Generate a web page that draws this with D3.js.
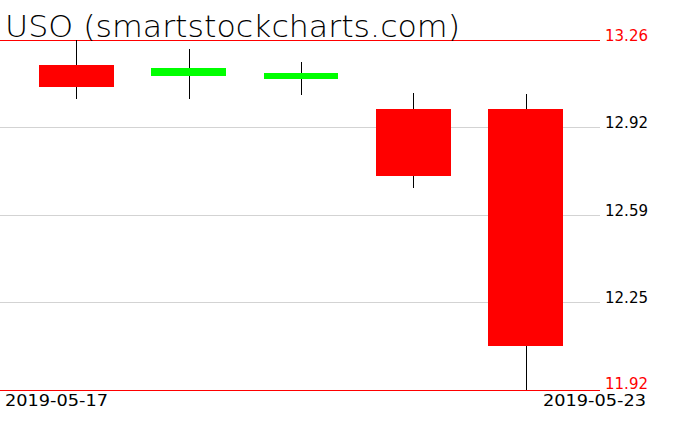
<!DOCTYPE html>
<html><head><meta charset="utf-8">
<script src="https://cdn.jsdelivr.net/npm/d3@7"></script>
<style>body{margin:0;background:#fff}svg{display:block}</style>
</head><body><svg id="c" width="676" height="431"></svg>
<script>
const dates = ["2019-05-17","2019-05-20","2019-05-21","2019-05-22","2019-05-23"];
const open  = [13.164, 13.122, 13.111, 12.996, 12.996];
const high  = [13.26, 13.226, 13.176, 13.057, 13.053];
const low   = [13.034, 13.034, 13.049, 12.693, 11.92];
const close = [13.080, 13.153, 13.134, 12.739, 12.088];
const yMin = 11.92, yMax = 13.26;
const tickValues = [11.92, 12.255, 12.59, 12.925, 13.26];
const tickLabels = ["11.92","12.25","12.59","12.92","13.26"];
const title = "USO (smartstockcharts.com)";

const svg = d3.select("#c");
const font = "'DejaVu Sans', sans-serif";
const x = d3.scaleBand().domain(dates).range([20, 582]).paddingInner(1/3).paddingOuter(1/6);
const y = d3.scaleLinear().domain([yMin, yMax]).range([390, 40]);
const lineEnd = 600;

// grid lines
svg.append("g").selectAll("line").data(tickValues).join("line")
  .attr("x1", 0).attr("x2", lineEnd)
  .attr("y1", d => Math.round(y(d)) + 0.5).attr("y2", d => Math.round(y(d)) + 0.5)
  .attr("stroke", (d, i) => (i === 0 || i === tickValues.length - 1) ? "#ff0000" : "#d3d3d3")
  .attr("stroke-width", 1);

// tick labels
svg.append("g").selectAll("text").data(tickValues).join("text")
  .attr("x", 605).attr("y", (d, i) => Math.round(y(d)) + (i === 0 ? -1 : 1))
  .attr("font-family", font).attr("font-size", 15).attr("font-weight", 400)
  .attr("textLength", 43).attr("lengthAdjust", "spacingAndGlyphs")
  .attr("fill", (d, i) => (i === 0 || i === tickValues.length - 1) ? "#ff0000" : "#000")
  .text((d, i) => tickLabels[i]);

const data = dates.map((d, i) => ({d, o: open[i], h: high[i], l: low[i], c: close[i]}));
const g = svg.append("g").attr("shape-rendering", "crispEdges");
g.selectAll("line.w").data(data).join("line").attr("class", "w")
  .attr("x1", d => Math.round(x(d.d) + x.bandwidth() / 2) + 0.5)
  .attr("x2", d => Math.round(x(d.d) + x.bandwidth() / 2) + 0.5)
  .attr("y1", d => y(d.h)).attr("y2", d => y(d.l))
  .attr("stroke", "#000").attr("stroke-width", 1);
g.selectAll("rect").data(data).join("rect")
  .attr("x", d => x(d.d)).attr("width", x.bandwidth())
  .attr("y", d => y(Math.max(d.o, d.c)))
  .attr("height", d => Math.max(1, y(Math.min(d.o, d.c)) - y(Math.max(d.o, d.c))))
  .attr("fill", d => d.c >= d.o ? "#00ff00" : "#ff0000");

// title
svg.append("text").attr("x", 5).attr("y", 37)
  .attr("font-family", font).attr("font-size", 30).attr("font-weight", 200)
  .attr("textLength", 455).attr("lengthAdjust", "spacingAndGlyphs")
  .attr("fill", "#000").text(title);

// date labels
svg.append("text").attr("x", 5).attr("y", 406)
  .attr("font-family", font).attr("font-size", 15).attr("font-weight", 400)
  .attr("textLength", 103).attr("lengthAdjust", "spacingAndGlyphs")
  .attr("fill", "#000").text(dates[0]);
svg.append("text").attr("x", 646).attr("y", 406).attr("text-anchor", "end")
  .attr("font-family", font).attr("font-size", 15).attr("font-weight", 400)
  .attr("textLength", 103).attr("lengthAdjust", "spacingAndGlyphs")
  .attr("fill", "#000").text(dates[dates.length - 1]);
</script></body></html>
